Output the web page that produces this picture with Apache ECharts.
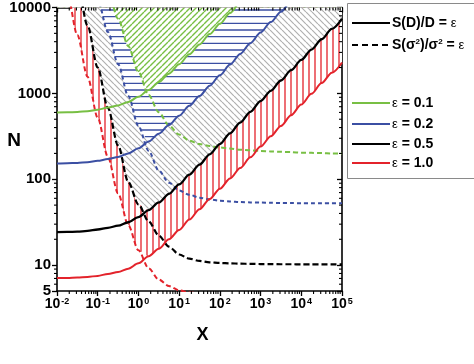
<!DOCTYPE html>
<html><head><meta charset="utf-8">
<script src="https://cdn.jsdelivr.net/npm/echarts@6/dist/echarts.min.js"></script>
<style>html,body{margin:0;padding:0;background:#fff}#c{width:474px;height:364px}</style>
</head><body><div id="c"></div>
<script>
// x grid: log10(X) positions at which curves were read
const logX = [-2,-1.75,-1.5,-1.25,-1,-0.75,-0.5,-0.25,0,0.25,0.5,0.75,1,1.25,1.5,1.75,2,2.25,2.5,2.75,3,3.25,3.5,3.75,4,4.25,4.5,4.75,5];
// S(D)/D = eps (solid)
const redSolid   = [7.1,7.1,7.2,7.3,7.5,7.9,8.3,9.1,10.5,12.7,15.5,20.0,25.7,33.9,44.7,58.9,77.6,102,135,180,240,316,417,556,741,989,1318,1738,2291];
const blackSolid = [24.3,24.4,24.5,25.1,26.0,27.2,28.8,31.6,36.3,43.7,53.7,67.6,87.1,113,148,195,257,343,457,610,813,1072,1413,1862,2455,3236,4266,5623,7413];
const blueSolid  = [153,154,155,158,164,172,182,200,229,275,339,427,550,716,933,1230,1622,2163,2884,3846,5129,6761,8913,11750,15490,20420,26900,35480,46770];
const greenSolid = [600,602,607,620,645,684,724,794,912,1096,1349,1698,2188,2851,3715,4898,6457,8610,11480,15310,20420,26920,35480,46770,61660,81280,107200,141300,186200];
// S(sigma^2)/sigma^2 = eps (dashed)
const redDashed   = [46400,14800,4770,1560,520,182,68.6,29.3,14.9,9.2,6.8,5.7,5.1,4.8,4.7,4.6,4.56,4.53,4.52,4.51,4.5,4.5,4.5,4.5,4.5,4.5,4.5,4.5,4.5];
const blackDashed = [190000,60000,19000,6170,2000,676,248,93,51,32.4,22.1,16.4,13.3,11.9,11.2,10.8,10.6,10.5,10.4,10.35,10.3,10.3,10.25,10.25,10.2,10.2,10.2,10.2,10.2];
const blueDashed  = [389000,166000,69200,29500,12300,5190,2190,933,417,214,126,91.2,74.1,66.1,61.0,58.2,56.2,55.2,54.3,53.8,53.5,53.2,53.0,52.8,52.7,52.6,52.5,52.5,52.5];
const greenDashed = [661000,316000,148000,70000,33100,15700,7410,3550,1778,955,603,422,331,282,257,244,234,228,221,217,214,211,209,207,204,203,202,200,200];
const legendLabels = ['S(D)/D = ε', 'S(σ²)/σ² = ε', 'ε = 0.1', 'ε = 0.2', 'ε = 0.5', 'ε = 1.0'];

const FONT = 'Liberation Sans, Arial, Helvetica, sans-serif';
const C = {red:'#e3232b', black:'#000000', blue:'#3b4fa3', green:'#78bf44', gray:'#b0b0b0'};

const xs = logX.map(v => Math.pow(10, v));
const pts = arr => xs.map((x, i) => [x, arr[i]]);
const maxOf = (a, b) => a.map((v, i) => Math.max(v, b[i]));

function hatch(kind, color, s, lw, n) {
  const c = document.createElement('canvas');
  c.width = s; c.height = s;
  const g = c.getContext('2d');
  g.fillStyle = '#fff'; g.fillRect(0, 0, s, s);
  g.strokeStyle = color; g.lineWidth = lw;
  g.beginPath();
  const cnt = n || 1, step = s / cnt;
  for (let k = 0; k < cnt; k++) {
    const o = step * (k + 0.5);
    if (kind === 'v') { g.moveTo(o, 0); g.lineTo(o, s); }
    else if (kind === 'h') { g.moveTo(0, o); g.lineTo(s, o); }
  }
  if (kind === 'b') { for (let k = -1; k <= 1; k++) { g.moveTo(k * s, 0); g.lineTo(k * s + s, s); } }
  if (kind === 'f') { for (let k = -1; k <= 1; k++) { g.moveTo(k * s, s); g.lineTo(k * s + s, 0); } }
  g.stroke();
  return {image: c, repeat: 'repeat'};
}

function region(name, lower, pattern) {
  return {type: 'line', name, data: pts(lower), smooth: 0.3, smoothMonotone: 'x', showSymbol: false,
    silent: true, lineStyle: {width: 0, opacity: 0}, areaStyle: {origin: 'end', color: pattern, opacity: 1}, z: 1};
}
function curve(arr, color, dashed, w) {
  return {type: 'line', data: pts(arr), smooth: 0.3, smoothMonotone: 'x', showSymbol: false, silent: true,
    lineStyle: {color, width: w || 2, type: dashed || 'solid', cap: 'butt'}, z: 3};
}

const minorX = [], minorY = [];
for (let e = -2; e < 5; e++) for (let m = 2; m <= 9; m++) minorX.push(m * Math.pow(10, e));
[6,7,8,9].forEach(v => minorY.push(v));
for (let e = 1; e < 4; e++) for (let m = 2; m <= 9; m++) minorY.push(m * Math.pow(10, e));
const minorData = minorX.map(v => [v, 5, 0]).concat(minorY.map(v => [0.01, v, 1]));

const axisLineStyle = {color: '#000', width: 1.6};
const tickStyle = {color: '#000', width: 1.3};
const xLabel = {
  margin: 6, color: '#000',
  formatter: v => '{b|10}{s|' + Math.round(Math.log10(v)) + '}',
  rich: {b: {fontFamily: FONT, fontWeight: 'bold', fontSize: 14, color: '#000'},
         s: {fontFamily: FONT, fontWeight: 'bold', fontSize: 9, color: '#000', verticalAlign: 'top', padding: [0, 0, 0, 1]}}
};

const option = {
  backgroundColor: '#fff',
  animation: false,
  grid: {left: 57, right: 132, top: 7, bottom: 73, containLabel: false},
  xAxis: [
    {type: 'log', min: 0.01, max: 100000, position: 'bottom',
     axisLine: {show: true, lineStyle: axisLineStyle}, axisTick: {show: true, inside: false, length: 5, lineStyle: tickStyle},
     axisLabel: xLabel, splitLine: {show: false},
     name: 'X', nameLocation: 'middle', nameGap: 35,
     nameTextStyle: {fontFamily: FONT, fontWeight: 'bold', fontSize: 18, color: '#000', padding: [0, 0, 0, 6]}},
    {type: 'log', min: 0.01, max: 100000, position: 'top',
     axisLine: {show: true, lineStyle: axisLineStyle}, axisTick: {show: true, inside: true, length: 5, lineStyle: tickStyle},
     axisLabel: {show: false}, splitLine: {show: false}}
  ],
  yAxis: [
    {type: 'log', min: 5, max: 10000, position: 'left',
     axisLine: {show: true, lineStyle: axisLineStyle}, axisTick: {show: true, inside: false, length: 5, lineStyle: tickStyle},
     axisLabel: {margin: 6, showMinLabel: true, showMaxLabel: true, formatter: v => String(Math.round(v)),
       fontFamily: FONT, fontWeight: 'bold', fontSize: 15, color: '#000'},
     splitLine: {show: false}},
    {type: 'log', min: 5, max: 10000, position: 'right',
     axisLine: {show: true, lineStyle: axisLineStyle}, axisTick: {show: true, inside: true, length: 5, lineStyle: tickStyle},
     axisLabel: {show: false}, splitLine: {show: false}}
  ],
  series: [
    region('eps=1.0', maxOf(redSolid, redDashed), hatch('v', C.red, 6, 1.3)),
    region('eps=0.5', maxOf(blackSolid, blackDashed), hatch('b', C.gray, 6, 1.2)),
    region('eps=0.2', maxOf(blueSolid, blueDashed), hatch('h', C.blue, 20, 1.3, 3)),
    region('eps=0.1', maxOf(greenSolid, greenDashed), hatch('f', C.green, 6, 1.4)),
    curve(redDashed, C.red, [5, 3], 2),
    curve(blackDashed, C.black, [6, 3], 2.2),
    curve(blueDashed, C.blue, [4, 3], 2),
    curve(greenDashed, C.green, [5, 3], 2),
    curve(redSolid, C.red, null, 2),
    curve(blackSolid, C.black, null, 2.3),
    curve(blueSolid, C.blue, null, 2),
    curve(greenSolid, C.green, null, 2),
    {type: 'custom', silent: true, clip: false, z: 5, data: minorData,
     renderItem: function (params, api) {
       const cs = params.coordSys;
       const p = api.coord([api.value(0), api.value(1)]);
       const st = {stroke: '#000', lineWidth: 1.1};
       if (api.value(2) === 0) {
         const yb = cs.y + cs.height;
         return {type: 'group', children: [
           {type: 'line', shape: {x1: p[0], y1: yb, x2: p[0], y2: yb + 3}, style: st},
           {type: 'line', shape: {x1: p[0], y1: cs.y, x2: p[0], y2: cs.y + 3}, style: st}]};
       }
       const xr = cs.x + cs.width;
       return {type: 'group', children: [
         {type: 'line', shape: {x1: cs.x - 3, y1: p[1], x2: cs.x, y2: p[1]}, style: st},
         {type: 'line', shape: {x1: xr - 3, y1: p[1], x2: xr, y2: p[1]}, style: st}]};
     }}
  ],
  graphic: (function () {
    const rich = {b: {fontFamily: FONT, fontWeight: 'bold', fontSize: 14, fill: '#000'},
                  s: {fontFamily: FONT, fontWeight: 'bold', fontSize: 8, fill: '#000', verticalAlign: 'top'},
                  e: {fontFamily: FONT, fontSize: 13, fill: '#000'}};
    const toRich = t => t.replace(/ε/g, '\u0001').replace(/²/g, '\u0002')
      .split(/(\u0001|\u0002)/).filter(s => s).map(s => s === '\u0001' ? '{e|ε}' : s === '\u0002' ? '{s|2}' : '{b|' + s + '}').join('');
    const g = [{type: 'rect', z: 100, shape: {x: 347.5, y: 3.5, width: 140, height: 175},
                style: {fill: '#fff', stroke: '#8a8a8a', lineWidth: 1}},
               {type: 'text', z: 100, x: 14, y: 141, style: {text: 'N', fontFamily: FONT, fontWeight: 'bold', fontSize: 19,
                fill: '#000', align: 'center', verticalAlign: 'middle'}}];
    const rowY = [23, 45, 103, 124, 144, 163];
    const rowC = ['#000', '#000', C.green, C.blue, '#000', C.red];
    legendLabels.forEach((t, i) => {
      g.push({type: 'line', z: 101, shape: {x1: 352, y1: rowY[i], x2: 390, y2: rowY[i]},
              style: {stroke: rowC[i], lineWidth: 2, lineDash: i === 1 ? [6, 4] : null}});
      g.push({type: 'text', z: 101, x: 392, y: rowY[i], style: {text: toRich(t), rich, verticalAlign: 'middle', align: 'left'}});
    });
    return g;
  })()
};

const chart = echarts.init(document.getElementById('c'), null, {renderer: 'canvas'});
chart.setOption(option);
</script>
</body></html>
